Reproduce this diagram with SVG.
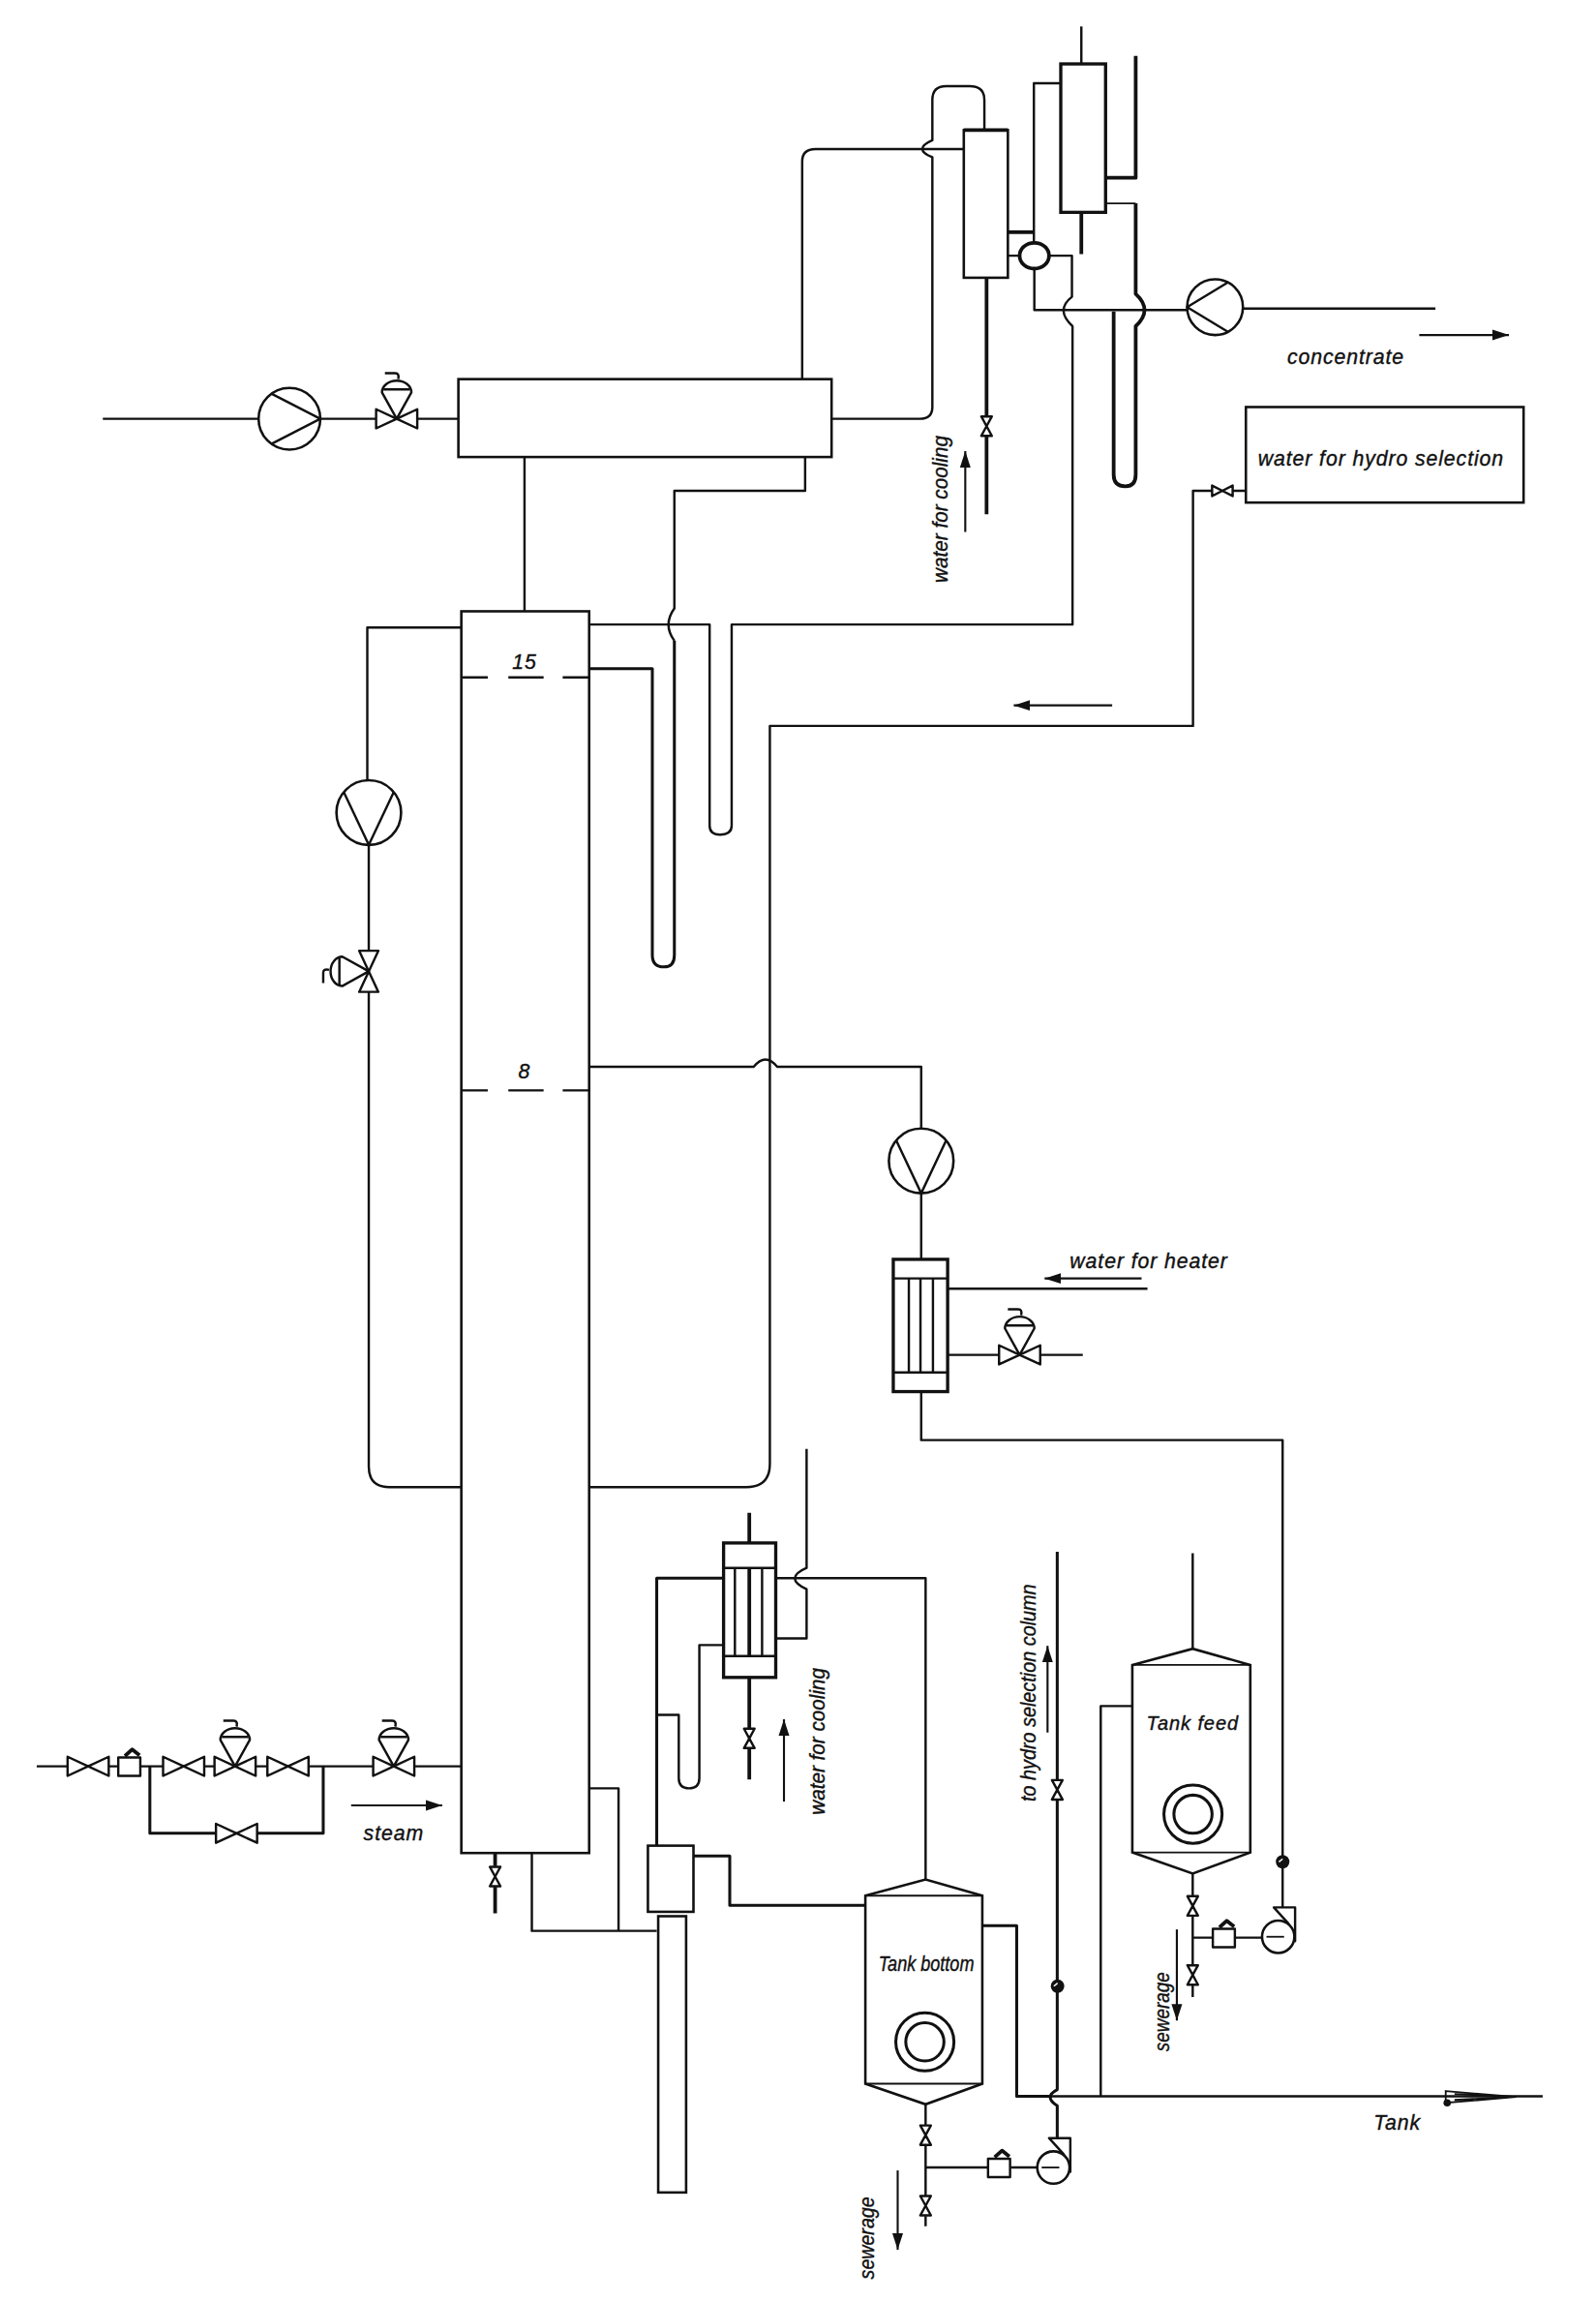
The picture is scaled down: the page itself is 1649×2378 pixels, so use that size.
<svg xmlns="http://www.w3.org/2000/svg" xmlns:xlink="http://www.w3.org/1999/xlink" width="1649" height="2378" viewBox="0 0 1649 2378">
<style>
.p{fill:none;stroke:#111;stroke-width:1.6;stroke-linejoin:round}
.m{fill:none;stroke:#111;stroke-width:2;stroke-linejoin:round}
.t{fill:none;stroke:#111;stroke-width:2.5;stroke-linejoin:round}
.n{fill:none;stroke:#111;stroke-width:1.2}
.e{fill:#fff;stroke:#111;stroke-width:1.7}
.f{fill:#fff;stroke:#111;stroke-width:1.6;stroke-linejoin:round}
.a{fill:none;stroke:#111;stroke-width:1.4}
text{font-family:"Liberation Sans",Arial,sans-serif;font-style:italic;font-size:14px;fill:#111;text-anchor:middle;letter-spacing:.6px;stroke:#111;stroke-width:.25}
.s13{font-size:13.2px}
</style>
<defs>
<marker id="ah" markerWidth="9" markerHeight="6" refX="8" refY="3" orient="auto" markerUnits="strokeWidth"><path d="M0,.4 L8,3 L0,5.6 Z" fill="#111"/></marker>
<g id="gv"><path class="f" d="M-14,-6.5 L0,0 L-14,6.5 Z M14,-6.5 L0,0 L14,6.5 Z"/></g>
<g id="sv"><path class="f" d="M-3.6,-6.6 L3.6,-6.6 L0,0 Z M-3.6,6.6 L3.6,6.6 L0,0 Z"/></g>
<g id="sh"><path class="f" d="M-7,-3.6 L-7,3.6 L0,0 Z M7,-3.6 L7,3.6 L0,0 Z"/></g>
<g id="cv"><path class="f" d="M0,0 L-10,-18 A10,8 0 0 1 10,-18 Z"/><path class="p" d="M-9,-20 H9 M-8,-31 H-1 Q2,-31 1,-27"/><use xlink:href="#gv"/></g>
<g id="pu"><circle class="e" r="21"/><path class="p" d="M-12,-17 L21,0 L-12,17"/></g>
<g id="pv"><circle class="e" r="22"/><path class="p" d="M-17,-14 L0,22 L17,-14"/></g>
<g id="hat"><rect class="f" x="-7.5" y="-6" width="15" height="12.5"/><path class="t" d="M-3,-7 L2,-11.5 L7,-7.5"/></g>
<g id="cp"><path class="f" d="M-3,-20 H11.5 V3 L7,-9 Z"/><circle class="e" r="11"/><path class="n" d="M-8,0 H4"/></g>
<g id="dot"><circle r="4.6" fill="#111"/><path d="M-2.5,0 L0,-2" stroke="#fff" stroke-width="1"/></g>
</defs>
<g transform="scale(1.518)">
<g id="connectors">
<path class="p" d="M70,285 H176 M218,285 H257 M283,285 H312"/>
<path class="p" d="M357,311 V416"/>
<path class="p" d="M314,427 H250 V532 M251,574 V648 M251,674 V998 Q251,1012 265,1012 H314"/>
<path class="p" d="M401,1012 H508 Q524,1012 524,996 V494 H812 V334 H825 M839,334 H848"/>
<path class="p" d="M401,726 H513 Q521,716 529,726 H627 V768"/>
<path class="p" d="M548,311 V334 H459 V414 Q451,425 459,436"/>
<path class="m" d="M459,436 V650 Q459,658 452,658 Q444,658 444,650 V455 H401"/>
<path class="p" d="M401,425 H483 V562 Q483,568 490,568 Q498,568 498,562 V425 H730 V222 Q718,211 729.6,202 V174 H714"/>
<path class="p" d="M546,258 V110 Q546,101.5 555,101.5 H656"/>
<path class="p" d="M566,285 H626 Q634.6,285 634.6,277 V107 Q621,101.5 634.6,95.5 V68 Q634.6,58.6 644,58.6 H660 Q670,58.6 670,68 V88"/>
<path class="t" d="M671.5,189 V283 M671.5,297 V350"/>
<path class="p" d="M736,18 V43"/>
<path class="t" d="M736,144.5 V173 M752,121 H773 V38"/>
<path class="n" d="M752,138.4 H773"/>
<path class="t" d="M773,138.4 V200 Q785,211 773,222 V323 Q773,331 766,331 Q758,331 758,323 V212"/>
<path class="p" d="M722,56.7 H703.7 V165 M686,174 H694 M704,183 V211 H809 M846,210 H977"/>
<path class="t" d="M686,158 H703.7"/>
<path class="p" d="M25,1202 H46 M74,1202 H80 M96,1202 H111 M139,1202 H146 M174,1202 H182 M210,1202 H254 M282,1202 H314"/>
<path class="m" d="M102,1202 V1247.6 H147 M175,1247.6 H220 V1202"/>
<path class="t" d="M337,1261 V1270 M337,1284 V1302"/>
<path class="p" d="M362,1261 V1314 H447 M401,1217 H421 V1314"/>
<path class="m" d="M447,1256 V1074 H493"/>
<path class="p" d="M447,1167 H462 V1210 Q462,1217 469,1217 Q476,1217 476,1210 V1119.5 H493"/>
<path class="m" d="M472,1263 H496.7 V1296.6 H589"/>
<path class="p" d="M528,1074 H630 V1279"/>
<path class="p" d="M549,986 V1067 Q533,1074 549,1081.5 V1115 H528"/>
<path class="t" d="M510,1029.5 V1050 M510,1142 V1176 M510,1190 V1211"/>
<path class="m" d="M669,1310.5 H692 V1426.6 H716"/>
<path class="p" d="M716,1426.6 H1050"/>
<path class="m" d="M719.6,1455 V1433 Q710,1427 719.6,1422 V1225 M719.6,1211 V1056"/>
<path class="p" d="M749.2,1426.6 V1161 H771"/>
<path class="p" d="M811.8,1057 V1122 M811.8,1275 V1290 M811.8,1304 V1337 M811.8,1351 V1359 M811.8,1318.6 H826 M841,1318.6 H859"/>
<path class="p" d="M873,1298 V980 H627 V947"/>
<path class="p" d="M630,1432 V1446 M630,1460 V1494 M630,1508 V1515 M630,1475 H672 M688,1475 H706"/>
<path class="p" d="M627,812 V857 M645,877 H781 M645,922 H680 M708,922 H737"/>
</g>
<g id="arrows">
<path class="a" marker-end="url(#ah)" d="M966,228 H1027"/>
<path class="a" marker-end="url(#ah)" d="M657,362 V307"/>
<path class="a" marker-end="url(#ah)" d="M757,480 H690"/>
<path class="a" marker-end="url(#ah)" d="M777,870 H711"/>
<path class="a" marker-end="url(#ah)" d="M239,1228.6 H301"/>
<path class="a" marker-end="url(#ah)" d="M533.6,1226 V1170"/>
<path class="a" marker-end="url(#ah)" d="M713,1179 V1120"/>
<path class="a" marker-end="url(#ah)" d="M801,1313 V1375"/>
<path class="a" marker-end="url(#ah)" d="M611,1477 V1531"/>
</g>
<g id="condenser-main"><rect class="e" x="312" y="258" width="254" height="53"/></g>
<g id="column"><rect class="e" x="314" y="416" width="87" height="845"/>
<path class="p" d="M314,461 H332 M346,461 H370 M383,461 H401 M314,742 H332 M346,742 H370 M383,742 H401"/>
<text x="357" y="455">15</text><text x="357" y="734">8</text></g>
<g id="stack-left"><rect class="e" x="656" y="88.5" width="30" height="100.5"/><path class="t" d="M656,88.5 H686"/></g>
<g id="stack-upper"><rect class="e" x="722" y="43.5" width="30.5" height="101" style="stroke-width:2.2"/></g>
<g id="separator"><ellipse class="t" style="fill:#fff" cx="704" cy="174" rx="10" ry="8.8"/></g>
<g id="box-water"><rect class="e" x="848" y="277" width="189" height="65"/><text x="940" y="317">water for hydro selection</text></g>
<g id="pump-1"><use xlink:href="#pu" x="197" y="285"/></g>
<g id="valve-1"><use xlink:href="#cv" x="270" y="285"/></g>
<g id="pump-2"><use xlink:href="#pv" x="251" y="553"/></g>
<g id="valve-2"><g transform="translate(251,661) rotate(-90)"><use xlink:href="#cv"/></g></g>
<g id="pump-3"><g transform="translate(827,209) rotate(180)"><circle class="e" r="19"/><path class="p" d="M-9,-17 L19,0 L-9,17"/></g></g>
<g id="pump-4"><use xlink:href="#pv" x="627" y="790"/></g>
<g id="valve-cool"><use xlink:href="#sv" x="671.5" y="290"/></g>
<g id="valve-water"><use xlink:href="#sh" x="832" y="334"/></g>
<g id="hx-1"><rect class="e" x="608" y="857" width="37" height="90" style="stroke-width:2.2"/><path class="p" d="M608,870 H645 M608,934 H645 M618.6,870 V934 M626.5,870 V934 M635,870 V934"/></g>
<g id="valve-3"><use xlink:href="#cv" x="694" y="922"/></g>
<g id="steam-valves">
<use xlink:href="#gv" x="60" y="1202"/>
<use xlink:href="#hat" x="88" y="1202"/>
<use xlink:href="#gv" x="125" y="1202"/>
<use xlink:href="#cv" x="160" y="1202"/>
<use xlink:href="#gv" x="196" y="1202"/>
<use xlink:href="#gv" x="161" y="1247.6"/>
<use xlink:href="#cv" x="268" y="1202"/>
<use xlink:href="#sv" x="337" y="1277"/>
</g>
<g id="vessel-small"><rect class="e" x="441" y="1256" width="31" height="45"/></g>
<g id="tall-rect"><rect class="e" x="448" y="1304" width="19" height="188"/></g>
<g id="hx-2"><rect class="e" x="492.5" y="1050" width="35.5" height="91.5" style="stroke-width:2.2"/><path class="p" d="M492.5,1067 H528 M492.5,1127 H528 M500.2,1067 V1127 M518.7,1067 V1127"/><path class="t" d="M510,1067 V1127"/><use xlink:href="#sv" x="510" y="1183"/></g>
<g id="tank-bottom"><path class="e" d="M589,1290 L630,1279 L668.6,1290 V1418 L630,1432 L589,1418 Z"/><path class="n" d="M589,1290 H668.6 M589,1418 H668.6"/><circle class="m" cx="629.5" cy="1389.5" r="19.8"/><circle class="m" cx="629.5" cy="1389.5" r="13"/><text x="630.5" y="1341" textLength="65" lengthAdjust="spacingAndGlyphs" style="letter-spacing:0">Tank bottom</text></g>
<g id="tank-feed"><path class="e" d="M770.7,1133 L811.8,1122 L851,1133 V1260.6 L811.8,1275 L770.7,1260.6 Z"/><path class="n" d="M770.7,1133 H851 M770.7,1260.6 H851"/><circle class="m" cx="812" cy="1234.6" r="19.8"/><circle class="m" cx="812" cy="1234.6" r="13"/><text class="s13" x="811.8" y="1177">Tank feed</text></g>
<g id="pump-bottom"><use xlink:href="#sv" x="630" y="1453"/><use xlink:href="#sv" x="630" y="1501"/><use xlink:href="#hat" x="680" y="1475"/><use xlink:href="#cp" x="717" y="1475"/></g>
<g id="pump-feed"><use xlink:href="#sv" x="811.8" y="1297"/><use xlink:href="#sv" x="811.8" y="1344"/><use xlink:href="#hat" x="833" y="1318.6"/><use xlink:href="#cp" x="870" y="1318"/></g>
<g id="instruments"><use xlink:href="#sv" x="719.6" y="1218"/><use xlink:href="#dot" x="719.8" y="1351.6"/><use xlink:href="#dot" x="873" y="1267"/></g>
<g id="tank-arrow"><path class="n" d="M984,1423 L1032,1427 L984,1431 Z M990,1425 L1028,1427 L990,1429"/><circle cx="985" cy="1431" r="2.5" fill="#111"/></g>
<g id="labels">
<text x="916" y="248">concentrate</text>
<text x="268" y="1252">steam</text>
<text x="951" y="1449">Tank</text>
<text x="782" y="863">water for heater</text>
<text transform="translate(645,346.5) rotate(-90)" textLength="100" lengthAdjust="spacingAndGlyphs" style="letter-spacing:0">water for cooling</text>
<text transform="translate(561,1185) rotate(-90)" textLength="100" lengthAdjust="spacingAndGlyphs" style="letter-spacing:0">water for cooling</text>
<text transform="translate(705,1152) rotate(-90)" textLength="148" lengthAdjust="spacingAndGlyphs" style="letter-spacing:0">to hydro selection column</text>
<text transform="translate(796,1369) rotate(-90)" textLength="54" lengthAdjust="spacingAndGlyphs" style="letter-spacing:0">sewerage</text>
<text transform="translate(595,1523) rotate(-90)" textLength="56" lengthAdjust="spacingAndGlyphs" style="letter-spacing:0">sewerage</text>
</g>
</g>
</svg>
